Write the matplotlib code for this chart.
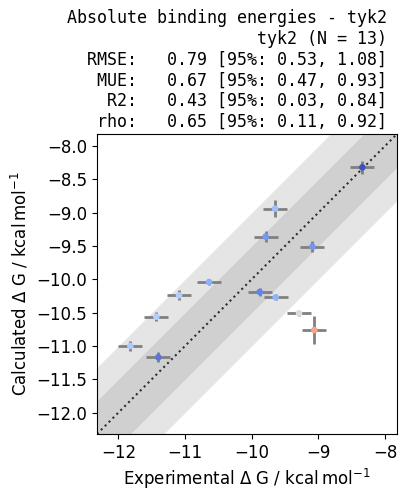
import numpy as np
import matplotlib
matplotlib.use("Agg")
import matplotlib.pyplot as plt

plt.rcParams["font.family"] = ["DejaVu Sans"]

# Data (kcal/mol)
exp_dg = [-8.34, -9.65, -9.79, -9.09, -10.64, -11.09, -9.88, -9.64, -9.29, -9.06, -11.43, -11.82, -11.40]
calc_dg = [-8.32, -8.94, -9.36, -9.51, -10.04, -10.24, -10.19, -10.27, -10.51, -10.76, -10.56, -11.00, -11.17]
exp_err = [0.18] * 13
calc_err = [0.10, 0.13, 0.08, 0.08, 0.05, 0.075, 0.06, 0.045, 0.04, 0.21, 0.07, 0.075, 0.075]

title_lines = [
    "Absolute binding energies - tyk2",
    "tyk2 (N = 13)",
    "RMSE:   0.79 [95%: 0.53, 1.08]",
    "MUE:   0.67 [95%: 0.47, 0.93]",
    "R2:   0.43 [95%: 0.03, 0.84]",
    "rho:   0.65 [95%: 0.11, 0.92]",
]

x = np.array(exp_dg)
y = np.array(calc_dg)

fig = plt.figure(figsize=(4.08, 4.97), dpi=100)
ax = fig.add_axes([97/408, 1-434/497, 300/408, 300/497])

lo = -12.32
hi = -7.82
ax.plot([lo, hi], [lo, hi], "k:", zorder=0)
for d in (0.5, 1.0):
    ax.fill_between([lo, hi], [lo - d, hi - d], [lo + d, hi + d], color="grey", alpha=0.2, linewidth=0, zorder=0)

ax.errorbar(x, y, xerr=exp_err, yerr=calc_err, color="gray", linewidth=0, elinewidth=2.0, zorder=1, fmt="none")
cmap = plt.get_cmap("coolwarm")
colors = cmap(np.abs(x - y) / 2.372)
ax.scatter(x, y, color=colors, s=14, marker="o", zorder=2)

ax.set_xlim(lo, hi)
ax.set_ylim(lo, hi)
ax.set_xticks([-12, -11, -10, -9, -8])
ax.set_yticks([-12.0, -11.5, -11.0, -10.5, -10.0, -9.5, -9.0, -8.5, -8.0])
ax.tick_params(labelsize=12)
ax.set_xlabel(r"Experimental $\Delta$ G / $\mathrm{kcal\,mol^{-1}}$", fontsize=12)
ax.set_ylabel(r"Calculated $\Delta$ G / $\mathrm{kcal\,mol^{-1}}$", fontsize=12)

fig.text(387/408, 1-9/497, "\n".join(title_lines), ha="right", va="top",
         family="DejaVu Sans Mono", fontsize=12, multialignment="right")

fig.savefig("out.png", dpi=100)
